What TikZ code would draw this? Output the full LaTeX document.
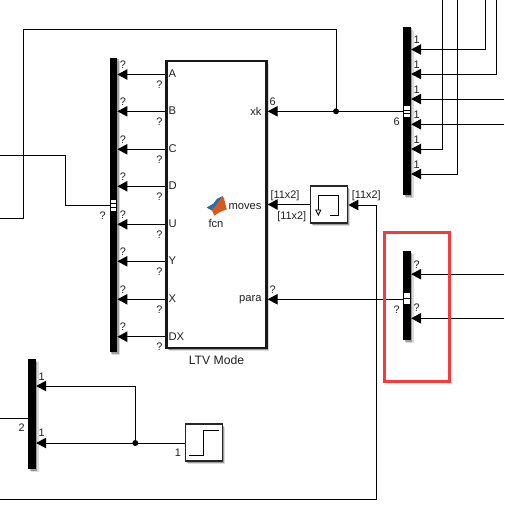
\documentclass[tikz,border=0pt]{standalone}
\usepackage{fontspec}
\setmainfont{Liberation Sans}
\usetikzlibrary{arrows.meta,shadows,calc}
\definecolor{lab}{HTML}{202020}
\definecolor{redbox}{HTML}{F53B3B}
\definecolor{mlblue}{HTML}{2A6FA8}
\definecolor{mlorange}{HTML}{D9561E}
\tikzset{
  wire/.style={draw=black,line width=1pt},
  sig/.style={wire,-{Triangle[length=10pt,width=10.5pt]},shorten >=0pt},
  softshadow/.style={
    drop shadow={shadow xshift=2.6pt,shadow yshift=-2.6pt,opacity=.14,fill=black},
    drop shadow={shadow xshift=1.5pt,shadow yshift=-1.5pt,opacity=.28,fill=black}},
  barnode/.style={rectangle,fill=black,inner sep=0pt,minimum width=7.5pt,softshadow},
  sblock/.style={rectangle,draw=black!85,line width=1.3pt,fill=white,inner sep=0pt,softshadow},
  sglab/.style={font=\fontsize{10.9}{12}\selectfont,text=lab,inner sep=0pt,yshift=-0.7pt},
  portlab/.style={font=\fontsize{11.2}{13}\selectfont,text=lab,inner sep=0pt},
  dotnode/.style={circle,fill=black,inner sep=0pt,minimum size=6pt},
  muxstrip/.style={rectangle,fill=white,inner sep=0pt,minimum width=5.5pt},
  iconline/.style={draw=black,line width=1pt},
}
\begin{document}
\begin{tikzpicture}[x=1pt,y=-1pt]
\useasboundingbox (0,0) rectangle (504,511);
\fill[white] (0,0) rectangle (504,511);

% blocks
\node[rectangle,draw=black!90,line width=2.4pt,fill=white,inner sep=0pt,minimum width=100pt,minimum height=287pt,softshadow] (ltv) at (216.5,204.5) {};
\node[sblock,minimum width=37.5pt,minimum height=37pt] (mem) at (329,204.5) {};
\node[sblock,minimum width=37pt,minimum height=37pt] (stepblk) at (203.8,442.5) {};

% bus bars
\node[barnode,minimum height=294pt] (barL) at (113.5,205) {};
\node[barnode,minimum height=168pt] (barR) at (407.2,111) {};
\node[barnode,minimum height=89pt] (barP) at (407.2,295.5) {};
\node[barnode,minimum height=110pt] (barS) at (32.2,414) {};

% free ends and corners
\coordinate (inA) at (0,218);
\coordinate (inB) at (0,155);
\coordinate (inS) at (0,418);
\coordinate (inM) at (0,499);

% top feedback and left wires
\draw[wire] (inA) -- (23.5,218) -- (23.5,29.5) -- (336,29.5) -- (336,111);
\draw[wire] (inB) -- (65.3,155) -- (65.3,205) -- (barL.west |- 0,205);
\draw[wire] (inS) -- (barS.west |- inS);

% outputs of LTV block ports
\foreach \n/\t/\y in {pa/A/74.5,pb/B/111.3,pc/C/149.3,pd/D/186.3,pu/U/224.3,py/Y/261.3,px/X/299.3,pdx/DX/336.7}{
  \coordinate (\n) at (ltv.west |- 0,\y);
  \draw[sig] (\n) -- (barL.east |- \n);
  \node[portlab,anchor=west] (name\n) at ($(ltv.west |- 0,\y)+(3,-0.5)$) {\t};
  \node[sglab] (up\n) at (123,\y-10.3) {?};
  \node[sglab] (dn\n) at (159.3,\y+9.6) {?};
}

% right bus inputs
\draw[sig] (485.3,0) -- (485.3,49.5) -- (barR.east |- 0,49.5);
\draw[sig] (496.3,0) -- (496.3,74) -- (barR.east |- 0,74);
\draw[sig] (504,99) -- (barR.east |- 0,99);
\draw[sig] (504,124.3) -- (barR.east |- 0,124.3);
\draw[sig] (442.3,0) -- (442.3,149) -- (barR.east |- 0,149);
\draw[sig] (457.3,0) -- (457.3,174) -- (barR.east |- 0,174);
\foreach \i/\y in {1/39.3,2/64,3/89,4/114,5/139,6/164}{
  \node[sglab] (one\i) at (416.7,\y) {1};
}

% xk
\draw[sig] (barR.west |- 0,111.3) -- (ltv.east |- 0,111.3);
\node[dotnode] (jxk) at (336,111.3) {};

% moves
\draw[sig] (mem.west) -- (ltv.east |- mem.west);
\draw[sig] (inM) -- (376.5,499) -- (376.5,205) -- (mem.east |- 0,205);

% para
\draw[sig] (barP.west |- 0,299.3) -- (ltv.east |- 0,299.3);
\draw[sig] (504,274.2) -- (barP.east |- 0,274.2);
\draw[sig] (504,318.3) -- (barP.east |- 0,318.3);

% lower bus
\node[dotnode] (jst) at (135.3,443) {};
\draw[sig] (stepblk.west |- 0,443) -- (barS.east |- 0,443);
\draw[sig] (jst) -- (135.3,386) -- (barS.east |- 0,386);

% mux strips
\node[muxstrip,minimum height=10.7pt] (sL) at (113.3,205.3) {};
\draw[black,line width=.8pt] (sL.west |- 0,203.5) -- (sL.east |- 0,203.5) (sL.west |- 0,207) -- (sL.east |- 0,207);
\node[muxstrip,minimum height=10.7pt] (sR) at (407.2,111.8) {};
\draw[black,line width=.8pt] (sR.west |- 0,110) -- (sR.east |- 0,110) (sR.west |- 0,113.5) -- (sR.east |- 0,113.5);
\node[muxstrip,minimum height=10.7pt] (sP) at (407.2,298.5) {};
\draw[black,line width=.8pt] (sP.west |- 0,298.5) -- (sP.east |- 0,298.5);

% block icons
\draw[iconline] (330,215) -- (338.7,215) -- (338.7,195.3) -- (318.3,195.3) -- (318.3,210);
\draw[draw=black,line width=.8pt,fill=white] (315.8,210) -- (320.8,210) -- (318.3,215) -- cycle;
\draw[iconline] (188.5,455) -- (203.7,455) -- (203.7,430.3) -- (219,430.3);

% MATLAB logo
\fill[mlblue] (206.6,207.6) -- (213.5,203.5) -- (217,198.8) -- (222.5,196) -- (219,202) -- (214.5,208) -- (212,210.6) -- cycle;
\fill[mlorange] (222.8,195.8) .. controls (224.5,199) and (225.3,204) .. (226.8,209.5) .. controls (222,210.5) and (218,213) .. (214,215.8) .. controls (213.5,213) and (212.8,211.5) .. (211.5,209.8) .. controls (216,207) and (219.5,200.5) .. (222.8,195.8) -- cycle;

% block labels
\node[portlab,anchor=east] (nxk) at (261.7,111.7) {xk};
\node[portlab,anchor=east] (nmoves) at (261.7,206.3) {moves};
\node[portlab,anchor=east] (npara) at (261.7,300) {para};
\node[portlab] (nfcn) at (216,223.5) {fcn};
\node[font=\fontsize{12.2}{14}\selectfont,text=lab,inner sep=0pt] (nltv) at (216.5,359.7) {LTV Mode};

% signal labels
\node[sglab] (qL) at (102.7,215) {?};
\node[sglab] (six1) at (272.7,101) {6};
\node[sglab] (six2) at (396.7,121) {6};
\node[sglab] (m1) at (285,195) {[11x2]};
\node[sglab] (m2) at (291.7,215.7) {[11x2]};
\node[sglab] (m3) at (366.3,195) {[11x2]};
\node[sglab] (qp) at (272.7,289) {?};
\node[sglab] (qP1) at (416.7,264) {?};
\node[sglab] (qP2) at (416.7,307.3) {?};
\node[sglab] (qP3) at (396.7,309.3) {?};
\node[sglab] (s1) at (41.7,376) {1};
\node[sglab] (s2) at (41.7,432.3) {1};
\node[sglab] (s3) at (21.7,427.3) {2};
\node[sglab] (s4) at (178,452) {1};

% highlight
\node[rectangle,draw=redbox,line width=3pt,inner sep=0pt,minimum width=65pt,minimum height=148.5pt] (hl) at (416.5,307.2) {};
\end{tikzpicture}
\end{document}
